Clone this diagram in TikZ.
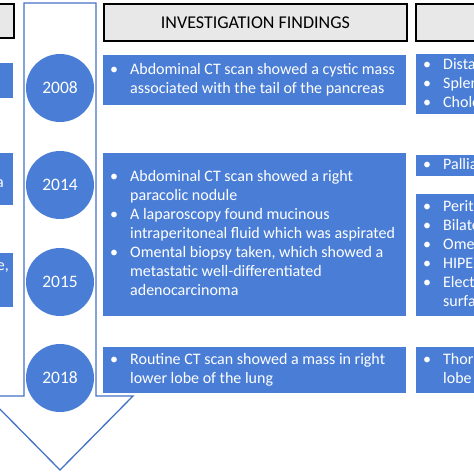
\documentclass[tikz,border=0pt]{standalone}
\usepackage{fontspec}
\setmainfont{Carlito}
\usepackage{array}
\definecolor{boxblue}{HTML}{4A7ED6}
\definecolor{arrowblue}{HTML}{4472C4}
\definecolor{hdrgray}{HTML}{E8E8E8}
\newcommand{\bul}{\textbullet}
\newcommand{\blist}[1]{\begin{tabular}{@{}p{20pt}@{}l@{}}#1\end{tabular}}
\begin{document}
\begin{tikzpicture}[x=1pt,y=-1pt,
  bbox/.style={fill=boxblue, draw=none, anchor=north west, inner sep=0pt},
  hdr/.style={fill=hdrgray, draw=black, line width=1.8pt, anchor=north west, inner sep=0pt, font=\fontsize{18}{21}\selectfont},
  btext/.style={text=white, anchor=west, inner sep=0pt, font=\fontsize{16}{19}\selectfont, align=left},
  year/.style={circle, fill=boxblue, minimum size=68pt, inner sep=0pt, text=white, font=\fontsize{17.5}{20}\selectfont}]
\useasboundingbox (0,0) rectangle (474,474);
\clip (0,0) rectangle (474,474);
\fill[white] (0,0) rectangle (474,474);

% headers
\node[hdr, minimum width=40pt, minimum height=34pt] (hl) at (-27,3) {};
\node[hdr, minimum width=303pt, minimum height=37pt] (hc) at (103,3) {INVESTIGATION FINDINGS};
\node[hdr, minimum width=100pt, minimum height=37pt] (hr) at (415,3) {};

% timeline arrow
\draw[arrowblue, line width=1.3pt, line join=miter] (24,3) -- (96,3) -- (96,396) -- (133,396) -- (60,470) -- (-13,396) -- (24,396) -- cycle;

% years
\node[year] (y1) at (60,88) {2008};
\node[year] (y2) at (60,185) {2014};
\node[year] (y3) at (60,282) {2015};
\node[year] (y4) at (60,378) {2018};

% left column (cropped)
\node[bbox, minimum width=53pt, minimum height=35pt] (la) at (-40,63) {};
\node[bbox, minimum width=53pt, minimum height=52pt] (lb) at (-40,153) {};
\node[bbox, minimum width=53pt, minimum height=54pt] (lc) at (-40,253) {};
\node[btext, anchor=base east] (lbt) at (4,187) {a};
\node[btext, anchor=base east] (lct) at (9,270) {e,};

% centre column
\node[bbox, minimum width=303pt, minimum height=50pt] (c1) at (103,55) {};
\node[btext] (c1t) at ([xshift=7pt]c1.west) {\blist{\bul & Abdominal CT scan showed a cystic mass\\ & associated with the tail of the pancreas}};

\node[bbox, minimum width=303pt, minimum height=163pt] (c2) at (103,153) {};
\node[btext] (c2t) at ([xshift=7pt]c2.west) {\blist{\bul & Abdominal CT scan showed a right\\ & paracolic nodule\\
\bul & A laparoscopy found mucinous\\ & intraperitoneal fluid which was aspirated\\
\bul & Omental biopsy taken, which showed a\\ & metastatic well-differentiated\\ & adenocarcinoma}};

\node[bbox, minimum width=303pt, minimum height=46pt] (c3) at (103,347) {};
\node[btext] (c3t) at ([xshift=7pt]c3.west) {\blist{\bul & Routine CT scan showed a mass in right\\ & lower lobe of the lung}};

% right column (cropped)
\node[bbox, minimum width=80pt, minimum height=60pt] (r1) at (416,54) {};
\node[btext] (r1t) at ([xshift=7pt]r1.west) {\blist{\bul & Dista\\ \bul & Splen\\ \bul & Chole}};
\node[bbox, minimum width=80pt, minimum height=21pt] (r2) at (416,155) {};
\node[btext] (r2t) at ([xshift=7pt]r2.west) {\blist{\bul & Pallia}};
\node[bbox, minimum width=80pt, minimum height=122pt] (r3) at (416,194) {};
\node[btext] (r3t) at ([xshift=7pt]r3.west) {\blist{\bul & Perit\\ \bul & Bilate\\ \bul & Ome\\ \bul & HIPE\\ \bul & Elect\\ & surfa}};
\node[bbox, minimum width=80pt, minimum height=46pt] (r4) at (416,347) {};
\node[btext] (r4t) at ([xshift=7pt]r4.west) {\blist{\bul & Thor\\ & lobe}};
\end{tikzpicture}
\end{document}
